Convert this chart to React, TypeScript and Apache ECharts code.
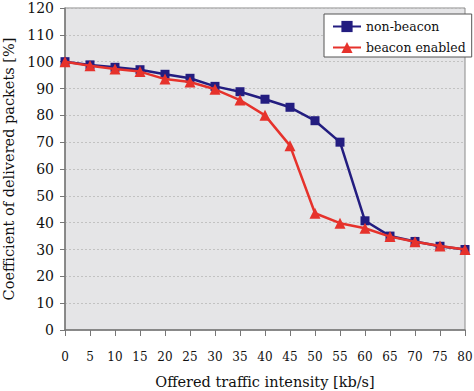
import React, { useEffect, useRef } from "react";
import * as echarts from "echarts";

const xValues = [0, 5, 10, 15, 20, 25, 30, 35, 40, 45, 50, 55, 60, 65, 70, 75, 80];
const nonBeacon = [100, 98.8, 97.9, 97, 95.3, 93.8, 90.8, 88.8, 86, 83, 78, 70, 40.7, 35, 33, 31.2, 30];
const beaconEnabled = [100, 98.5, 97.3, 96.3, 93.5, 92.4, 89.7, 85.7, 80, 68.7, 43.5, 39.8, 37.9, 34.8, 32.9, 31.3, 30];
const seriesNames = ["non-beacon", "beacon enabled"];
const xTitle = "Offered traffic intensity [kb/s]";
const yTitle = "Coefficient of delivered packets [%]";

export default function App() {
  const ref = useRef<HTMLDivElement>(null);
  useEffect(() => {
    if (!ref.current) return;
    const chart = echarts.init(ref.current, undefined, { renderer: "svg" });
    const font = "DejaVu Serif";
    chart.setOption({
      animation: false,
      textStyle: { fontFamily: font },
      grid: {
        left: 65,
        right: 9,
        top: 8,
        bottom: 61,
        outerBoundsMode: "none",
        containLabel: false,
        show: true,
        backgroundColor: "#e5e5e7",
        borderColor: "#8a8a8a",
        borderWidth: 1,
      },
      legend: {
        orient: "vertical",
        left: 324,
        top: 14,
        backgroundColor: "#ffffff",
        borderColor: "#555",
        borderWidth: 1,
        borderRadius: 0,
        padding: [6, 6, 3, 8],
        itemGap: 8,
        itemWidth: 28,
        itemHeight: 14,
        textStyle: { fontFamily: font, fontSize: 12.5, color: "#111" },
        data: seriesNames,
      },
      xAxis: {
        type: "value",
        min: 0,
        max: 80,
        interval: 5,
        name: xTitle,
        nameLocation: "middle",
        nameGap: 44,
        nameTextStyle: { fontFamily: font, fontSize: 14.5, color: "#111" },
        axisLine: { show: true, lineStyle: { color: "#777", width: 1.5 } },
        axisTick: { show: true, length: 6, lineStyle: { color: "#777" } },
        axisLabel: { fontFamily: font, fontSize: 12, color: "#111", margin: 21 },
        splitLine: { show: false },
      },
      yAxis: {
        type: "value",
        min: 0,
        max: 120,
        interval: 10,
        name: yTitle,
        nameLocation: "middle",
        nameGap: 47,
        nameTextStyle: { fontFamily: font, fontSize: 14.5, color: "#111" },
        axisLine: { show: true, lineStyle: { color: "#777", width: 1.5 } },
        axisTick: { show: true, length: 5, lineStyle: { color: "#777" } },
        axisLabel: { fontFamily: font, fontSize: 14, color: "#111", margin: 11 },
        splitLine: { show: true, lineStyle: { color: "#c2c2c2", width: 1, type: [2, 2] } },
      },
      series: [
        {
          name: seriesNames[0],
          type: "line",
          data: xValues.map((x, i) => [x, nonBeacon[i]]),
          symbol: "rect",
          symbolSize: 9,
          itemStyle: { color: "#231d80" },
          lineStyle: { color: "#231d80", width: 2.5 },
          z: 2,
        },
        {
          name: seriesNames[1],
          type: "line",
          data: xValues.map((x, i) => [x, beaconEnabled[i]]),
          symbol: "triangle",
          symbolSize: 11,
          itemStyle: { color: "#e6322c" },
          lineStyle: { color: "#e6322c", width: 2.5 },
          z: 3,
        },
      ],
    });
    return () => chart.dispose();
  }, []);
  return <div ref={ref} style={{ width: 474, height: 391, position: "absolute", left: 0, top: 0 }} />;
}
